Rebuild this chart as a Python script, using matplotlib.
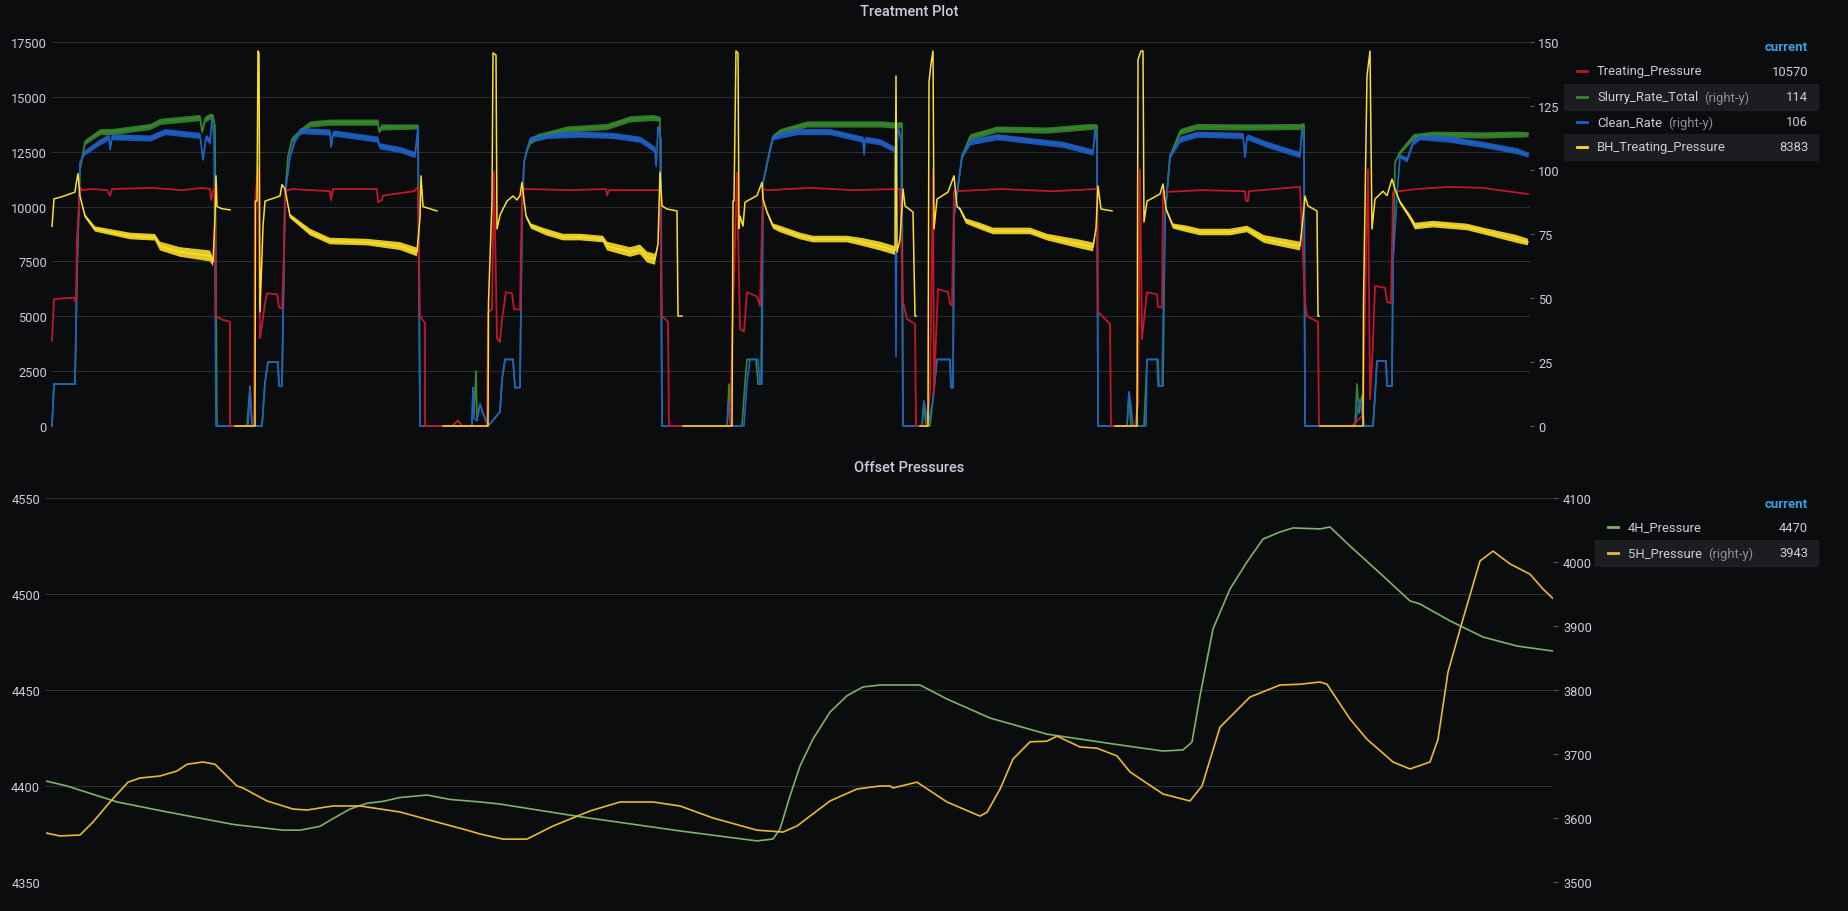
import numpy as np
import matplotlib.pyplot as plt
from matplotlib.patches import Rectangle
from matplotlib.lines import Line2D

plt.rcParams['font.family'] = ['Roboto', 'DejaVu Sans']

W, H = 1848, 912
BG = '#0b0c0e'
TXT = '#ccccdc'
GRID = '#2c2d31'
BAND = '#1c1d21'
nan = np.nan

# ---------------------------------
#  Treatment Plot  (t = minutes from start)
# ---------------------------------

# (t, psi)
treating_pressure = [
    (0, 3900), (2, 5780), (22, 5850), (23, 5700), (24, 5750), (25, 8600), (27, 10000), (28, 10900),
    (30, 10750), (40, 10800), (55, 10750), (58, 10500), (60, 10800), (100, 10850), (130, 10750),
    (150, 10850), (158, 10800), (159, 10300), (161, 10700), (163, 10900), (164, 5000), (170, 4850),
    (178, 4750), (178, 0),
    (202, 0), (203, 10200), (206, 11800), (208, 4000), (209, 4300), (213, 5600), (215, 6050), (225, 6000),
    (227, 5400), (230, 5350), (232, 8000), (233, 10700), (240, 10800), (278, 10700), (279, 10300),
    (281, 10800), (325, 10800), (326, 10200), (330, 10300), (331, 10500), (362, 10700), (366, 10900),
    (368, 5000), (373, 4700), (373, 0),
    (400, 0), (406, 250), (410, 0), (435, 0), (436, 5200), (440, 5300), (442, 11600), (445, 4000),
    (448, 3830), (450, 4880), (454, 6100), (460, 6050), (462, 5330), (468, 5300), (470, 10660),
    (472, 10800), (520, 10750), (554, 10800), (555, 10500), (557, 10750), (608, 10750), (610, 5010),
    (616, 4750), (617, 0),
    (678, 0), (681, 5200), (685, 11570), (688, 4420), (692, 4300), (695, 6100), (705, 5900), (708, 5470),
    (711, 10800), (715, 10750), (760, 10850), (800, 10750), (848, 10800), (851, 5650), (855, 4880),
    (863, 4650), (864, 0),
    (875, 0), (878, 1500), (881, 11700), (882, 1500), (884, 4000), (886, 6240), (896, 6100), (898, 5560),
    (900, 5500), (902, 10700), (950, 10800), (1000, 10700), (1045, 10800), (1046, 5200), (1058, 4650),
    (1059, 0),
    (1083, 0), (1086, 1000), (1088, 11700), (1090, 3965), (1095, 6100), (1105, 6000), (1106, 5420),
    (1110, 5400), (1111, 10660), (1150, 10750), (1193, 10700), (1194, 10250), (1196, 10250),
    (1197, 10700), (1248, 10900), (1253, 5650), (1255, 5010), (1266, 4740), (1267, 0),
    (1300, 0), (1311, 500), (1313, 5650), (1316, 11700), (1318, 1230), (1321, 3830), (1323, 6380),
    (1333, 6300), (1335, 5650), (1339, 5600), (1341, 10660), (1365, 10800), (1398, 10900),
    (1431, 10850), (1476, 10570),
]

# (t, bpm, noise half-spread)
slurry_rate_total = [
    (0, 0, 0), (2, 16.4, 0), (23, 16.4, 0), (25, 60, 0), (28, 100, 0), (33, 111, 1.0), (48, 115, 1.2),
    (60, 115, 1.2), (98, 117, 1.2), (108, 119, 1.2), (148, 120.5, 1.2), (150, 115, 0.8), (153, 120, 1.2),
    (158, 121, 1.2), (161, 121, 1), (163, 117, 0), (165, 0, 0),
    (195, 0, 0), (198, 15.6, 0), (200, 0, 0), (210, 0, 0), (213, 17, 0), (216, 25, 0), (226, 25, 0),
    (227, 15.6, 0), (230, 15.6, 0), (233, 90, 0), (236, 105.5, 0), (240, 112, 1), (248, 115, 1.2),
    (258, 118, 1.2), (278, 118.7, 1.2), (326, 118.7, 1.2), (327, 115, 0.8), (329, 116.8, 1.2),
    (366, 117, 1), (368, 0, 0),
    (420, 0, 0), (421, 15, 0), (422, 5, 0), (424, 21.5, 0), (425, 3, 0), (428, 8.6, 0), (431, 5, 0),
    (436, 0, 0), (448, 5.5, 0), (450, 18, 0), (453, 26, 0), (461, 26, 0), (463, 15, 0), (468, 15, 0),
    (470, 82, 0), (472, 103, 0), (475, 108, 0.8), (478, 111, 1), (485, 113, 1.2), (515, 116, 1.2),
    (555, 117, 1.2), (578, 120, 1.2), (601, 120.5, 1.2), (608, 120, 1), (610, 0, 0),
    (675, 0, 0), (677, 16.4, 0), (679, 0, 0), (690, 0, 0), (693, 17, 0), (695, 26, 0), (704, 26, 0),
    (706, 16.4, 0), (709, 16.4, 0), (711, 95, 0), (718, 108, 0.8), (721, 113, 1), (728, 115, 1.2),
    (755, 118, 1.2), (828, 118, 1.2), (845, 117.5, 1.2), (850, 118, 1), (851, 0, 0),
    (870, 0, 0), (872, 9.7, 0), (874, 0, 0), (878, 0, 0), (881, 10.5, 0), (885, 26, 0), (898, 26, 0),
    (899, 15, 0), (901, 15, 0), (902, 82, 0), (910, 105.5, 0.8), (918, 113, 1.2), (945, 116, 1.2),
    (995, 115.6, 1.2), (1038, 117, 1.2), (1045, 117, 1), (1046, 0, 0),
    (1075, 0, 0), (1077, 13.3, 0), (1079, 0, 0), (1092, 0, 0), (1095, 26, 0), (1106, 26, 0),
    (1107, 15.6, 0), (1111, 15.6, 0), (1113, 82, 0), (1118, 105.5, 0.8), (1128, 115, 1.2),
    (1145, 117, 1.2), (1195, 116.8, 1.2), (1248, 117, 1.2), (1252, 117.6, 1), (1253, 0, 0),
    (1303, 0, 0), (1305, 16.4, 0), (1307, 5, 0), (1310, 12, 0), (1312, 0, 0), (1321, 0, 0),
    (1323, 11.7, 0), (1325, 25.4, 0), (1334, 25.4, 0), (1335, 15.6, 0), (1340, 15.6, 0), (1341, 64, 0),
    (1343, 103, 0), (1348, 107, 0.8), (1361, 113, 1.2), (1381, 114, 1.2), (1431, 113.7, 1.2),
    (1465, 114, 1.2), (1476, 114, 1),
]

# (t, bpm, noise half-spread)
clean_rate = [
    (0, 0, 0), (2, 16.4, 0), (23, 16.4, 0), (25, 60, 0), (28, 103, 0), (33, 107, 1), (48, 111, 1.2),
    (57, 113, 1.2), (58, 108, 0.5), (60, 113, 1.2), (98, 112.5, 1.2), (113, 115, 1.2), (148, 113.5, 1.2),
    (151, 104, 0.5), (154, 113, 1.2), (158, 111, 1.2), (160, 120, 0.5), (162, 113, 0.5), (164, 0, 0),
    (178, 0, 0),
    (196, 0, 0), (198, 14.5, 0), (200, 0, 0), (210, 0, 0), (213, 17, 0), (216, 25, 0), (226, 25, 0),
    (227, 15.6, 0), (230, 15.6, 0), (233, 90, 0), (238, 105.5, 0.8), (243, 112, 1.2), (248, 115.4, 1.2),
    (278, 114.8, 1.2), (279, 109, 0.5), (281, 114.5, 1.2), (326, 112, 1.2), (327, 109.5, 1.2),
    (348, 108, 1.2), (363, 106, 1.2), (366, 117, 0.5), (368, 0, 0), (385, 0, 0),
    (420, 0, 0), (421, 15, 0), (422, 3, 0), (425, 2, 0), (428, 8.6, 0), (431, 5, 0), (436, 0, 0),
    (448, 5.5, 0), (450, 18, 0), (453, 26, 0), (461, 26, 0), (463, 15, 0), (468, 15, 0), (470, 82, 0),
    (472, 103, 0), (475, 108, 0.8), (478, 112, 1.2), (495, 113.5, 1.2), (528, 114, 1.2),
    (561, 113.5, 1.2), (588, 112, 1.2), (603, 108, 1.2), (604, 101.5, 0.5), (605, 108, 0.5),
    (606, 117, 0.5), (609, 112, 0.5), (610, 0, 0), (631, 0, 0),
    (675, 0, 0), (677, 9.4, 0), (679, 0, 0), (692, 0, 0), (695, 17, 0), (698, 26, 0), (706, 26, 0),
    (708, 16.4, 0), (710, 16.4, 0), (711, 95, 0), (718, 108, 0.8), (721, 113, 1.2), (745, 115, 1.2),
    (778, 115, 1.2), (811, 112, 1.2), (812, 106, 0.5), (813, 112, 1.2), (828, 111, 1.2),
    (843, 108, 1.2), (844, 27, 0), (845, 108, 0.5), (846, 117, 0.5), (849, 112, 0.5), (851, 0, 0),
    (865, 0, 0),
    (870, 0, 0), (872, 9.7, 0), (874, 5, 0), (876, 0, 0), (881, 10.5, 0), (885, 26, 0), (898, 26, 0),
    (899, 15, 0), (901, 15, 0), (902, 82, 0), (910, 105.5, 0.8), (918, 111, 1.2), (945, 113, 1.2),
    (978, 111.5, 1.2), (1011, 110, 1.2), (1041, 107, 1.2), (1043, 116, 0.5), (1045, 110, 0.5),
    (1046, 0, 0), (1060, 0, 0),
    (1075, 0, 0), (1077, 13.3, 0), (1079, 8, 0), (1081, 0, 0), (1094, 0, 0), (1095, 26, 0),
    (1105, 26, 0), (1106, 15.6, 0), (1110, 15.6, 0), (1113, 82, 0), (1118, 105.5, 0.8),
    (1128, 112, 1.2), (1145, 114, 1.2), (1191, 113.5, 1.2), (1193, 105, 0.5), (1195, 113, 1.2),
    (1215, 110, 1.2), (1248, 106, 1.2), (1250, 116, 0.5), (1252, 111, 0.5), (1253, 0, 0), (1266, 0, 0),
    (1303, 0, 0), (1305, 5, 0), (1308, 10.5, 0), (1310, 5, 0), (1312, 0, 0), (1321, 0, 0),
    (1323, 11.7, 0), (1325, 25.4, 0), (1334, 25.4, 0), (1335, 15.6, 0), (1340, 15.6, 0), (1341, 64, 0),
    (1345, 90, 0), (1348, 105.5, 0.8), (1355, 104, 1), (1361, 111, 1.2), (1368, 113, 1.2),
    (1398, 112, 1.2), (1431, 110, 1.2), (1465, 107.5, 1.2), (1476, 106, 1),
]

# (t, psi, noise half-spread); nan = no data
bh_treating_pressure = [
    (0, 9100, 0), (2, 10350, 0), (10, 10450, 0), (23, 10660, 0), (24, 11000, 0), (26, 11500, 0),
    (28, 10480, 0), (33, 9570, 80), (43, 8980, 120), (78, 8660, 150), (103, 8600, 150), (108, 8200, 200),
    (128, 7930, 220), (158, 7750, 250), (161, 7470, 200), (163, 9500, 0), (164, 11400, 0),
    (165, 10000, 0), (170, 9900, 0), (178, 9850, 0), (178, nan, 0),
    (183, 0, 0), (203, 0, 0), (203.5, 10250, 0), (205, 10250, 0), (206, 17090, 0), (207, 17000, 0),
    (208, 5200, 0), (211, 9100, 0), (213, 10250, 0), (228, 10480, 0), (230, 11000, 0), (233, 10800, 0),
    (238, 9570, 100), (258, 8840, 150), (278, 8430, 150), (315, 8380, 150), (348, 8200, 180),
    (365, 7930, 200), (368, 9500, 0), (369, 11400, 0), (371, 10000, 0), (385, 9800, 0), (385, nan, 0),
    (391, 0, 0), (436, 0, 0), (436.5, 5650, 0), (440, 10250, 0), (441, 17000, 0), (444, 16900, 0),
    (445, 8980, 0), (448, 9600, 0), (451, 9890, 0), (455, 10250, 0), (461, 10480, 0), (465, 10300, 0),
    (468, 10500, 0), (470, 11100, 0), (472, 10340, 0), (474, 9570, 80), (479, 9110, 120),
    (494, 8840, 150), (511, 8610, 150), (528, 8610, 150), (551, 8520, 150), (555, 8200, 200),
    (578, 7930, 220), (588, 8050, 220), (595, 7700, 250), (603, 7600, 250), (606, 8300, 0),
    (608, 11570, 0), (610, 10030, 0), (615, 9890, 0), (625, 9800, 0), (626, 5010, 0), (630, 5010, 0),
    (630, nan, 0),
    (631, 0, 0), (680, 0, 0), (681, 10250, 0), (682, 10250, 0), (684, 17090, 0), (686, 17000, 0),
    (687, 9000, 0), (688, 9570, 0), (691, 9110, 0), (693, 10200, 0), (705, 10500, 0), (710, 11100, 0),
    (711, 10340, 0), (715, 9750, 80), (721, 9110, 120), (728, 8980, 150), (748, 8660, 150),
    (761, 8520, 150), (795, 8520, 150), (811, 8380, 180), (828, 8200, 200), (843, 8000, 200),
    (844, 15950, 0), (845, 7930, 0), (848, 8500, 0), (851, 10800, 0), (853, 10030, 0), (861, 9750, 0),
    (863, 5010, 0), (864, 5010, 0), (864, nan, 0),
    (868, 0, 0), (876, 0, 0), (877, 15680, 0), (879, 16500, 0), (881, 17090, 0), (882, 8980, 0),
    (885, 10340, 0), (896, 10660, 0), (902, 11400, 0), (905, 10000, 0), (908, 9890, 80),
    (914, 9340, 120), (928, 9110, 150), (941, 8890, 150), (978, 8890, 150), (995, 8610, 150),
    (1028, 8290, 200), (1041, 8160, 200), (1044, 9000, 0), (1046, 10940, 0), (1049, 9890, 0),
    (1060, 9800, 0), (1060, nan, 0),
    (1063, 0, 0), (1085, 0, 0), (1086, 16700, 0), (1089, 17090, 0), (1091, 17090, 0), (1092, 9300, 0),
    (1095, 10250, 0), (1108, 10570, 0), (1111, 11030, 0), (1114, 9890, 80), (1121, 9110, 120),
    (1135, 8980, 150), (1148, 8840, 150), (1178, 8840, 150), (1195, 8980, 150), (1212, 8520, 180),
    (1248, 8200, 200), (1251, 9500, 0), (1253, 10480, 0), (1256, 10030, 0), (1265, 9800, 0),
    (1266, 5010, 0), (1267, 5010, 0), (1267, nan, 0),
    (1268, 0, 0), (1311, 0, 0), (1311.5, 5650, 0), (1315, 15950, 0), (1318, 17090, 0), (1320, 8980, 0),
    (1323, 10340, 0), (1331, 10700, 0), (1335, 10500, 0), (1340, 11250, 0), (1343, 10800, 0),
    (1348, 10200, 80), (1358, 9520, 120), (1363, 9110, 150), (1381, 9200, 150), (1415, 9070, 150),
    (1431, 8890, 150), (1465, 8520, 180), (1476, 8383, 150),
]

# ---------------------------------
#  Offset Pressures
# ---------------------------------

pressure_4h = [
    (0, 4402.6), (21, 4400), (71, 4391.7), (121, 4386.5), (187, 4380), (237, 4377), (254, 4377),
    (274, 4379), (287, 4383), (304, 4388), (321, 4391), (337, 4392), (354, 4394), (381, 4395.3),
    (404, 4393), (434, 4391.7), (454, 4390.6), (534, 4384), (634, 4376.6), (711, 4371.4),
    (727, 4372.4), (734, 4377.6), (744, 4394.8), (754, 4410.4), (767, 4424.5), (784, 4438.5),
    (801, 4447), (817, 4451.6), (834, 4452.6), (874, 4452.6), (901, 4445.3), (944, 4435.4),
    (1001, 4427), (1067, 4421.9), (1117, 4418.2), (1137, 4418.8), (1146, 4422.9), (1154, 4446.9),
    (1167, 4481.8), (1184, 4502.6), (1201, 4516.7), (1217, 4528.6), (1234, 4532.3), (1247, 4534.4),
    (1274, 4533.9), (1284, 4534.9), (1304, 4525), (1337, 4509.4), (1364, 4496.4), (1374, 4494.8),
    (1404, 4486), (1437, 4477.6), (1471, 4472.9), (1507, 4470.3),
]

pressure_5h = [
    (0, 3576.6), (14, 3572), (34, 3573.4), (47, 3593.7), (64, 3625), (82, 3656), (94, 3662.5),
    (114, 3665.6), (131, 3673.4), (141, 3684), (157, 3687.5), (169, 3684), (191, 3650), (197, 3646.9),
    (221, 3626.6), (247, 3614), (261, 3612.5), (287, 3618.8), (314, 3618.8), (354, 3609.4),
    (387, 3595.3), (421, 3581), (434, 3575), (457, 3567), (481, 3567), (507, 3587.5), (544, 3611),
    (574, 3625), (607, 3625), (634, 3618.8), (667, 3600), (711, 3581), (737, 3578), (751, 3587.5),
    (784, 3626.6), (811, 3645.3), (834, 3650), (844, 3650), (847, 3647), (871, 3656), (901, 3625),
    (934, 3603), (941, 3609), (954, 3645), (967, 3692), (984, 3719), (1001, 3720), (1011, 3728),
    (1034, 3711), (1051, 3709), (1071, 3697), (1084, 3672), (1117, 3637.5), (1144, 3626.6),
    (1156, 3650), (1174, 3742), (1204, 3789), (1234, 3807.8), (1254, 3809), (1274, 3812.5),
    (1281, 3809), (1304, 3754.7), (1321, 3723), (1347, 3687.5), (1364, 3676.6), (1384, 3687.5),
    (1392, 3723), (1402, 3828), (1417, 3911), (1434, 4001.6), (1447, 4017), (1464, 3997),
    (1484, 3981), (1497, 3957.8), (1507, 3943),
]

top_names = ["Treating_Pressure", "Slurry_Rate_Total", "Clean_Rate", "BH_Treating_Pressure"]
top_right_y = [False, True, True, False]
top_colors = ['#c4162a', '#37872d', '#1f60c4', '#fade2a']
bot_names = ["4H_Pressure", "5H_Pressure"]
bot_right_y = [False, True]
bot_colors = ['#7eb26d', '#eab839']


def arr(points):
    return np.array(points, dtype=float).T


def fpx(x, y):
    return x / W, 1 - y / H


fig = plt.figure(figsize=(W / 100, H / 100), dpi=100, facecolor=BG)

# ---------- top panel ----------
ax_r = fig.add_axes([52 / W, 1 - 427 / H, 1478 / W, 384 / H])
ax_l = ax_r.twinx()
ax_l.yaxis.set_label_position('left')
ax_l.yaxis.tick_left()
ax_r.yaxis.tick_right()
ax_l.set_zorder(ax_r.get_zorder() + 1)
for a in (ax_l, ax_r):
    a.patch.set_visible(False)
    for s in a.spines.values():
        s.set_visible(False)
    a.set_xticks([])
    a.set_xlim(0, 1478)

ax_l.set_ylim(0, 17500)
ax_r.set_ylim(0, 150)
left_ticks = np.arange(0, 17501, 2500)
ax_l.set_yticks(left_ticks)
ax_r.set_yticks(np.arange(0, 151, 25))
ax_l.tick_params(axis='y', length=0, pad=3.6, labelsize=9.2, labelcolor=TXT)
ax_r.tick_params(axis='y', length=3, width=0.8, color='#55565c', pad=3, labelsize=9.2, labelcolor=TXT)
for v in left_ticks:
    ax_r.axhline(v * 150 / 17500, color=GRID, lw=0.8, zorder=0)

t, v = arr(treating_pressure)
ax_l.plot(t, v, color=top_colors[0], lw=1.3, clip_on=False, zorder=2)

for a_data, col in ((slurry_rate_total, top_colors[1]), (clean_rate, top_colors[2])):
    t, v, s = arr(a_data)
    ax_r.fill_between(t, v - s, v + s, color=col, lw=0, alpha=0.9)
    ax_r.plot(t, v, color=col, lw=1.2, clip_on=False)

t, v, s = arr(bh_treating_pressure)
ax_l.fill_between(t, v - s, v + s, color=top_colors[3], lw=0, alpha=0.9, zorder=3)
ax_l.plot(t, v, color=top_colors[3], lw=1.1, clip_on=False, zorder=3)

# ---------- bottom panel ----------
ax_b = fig.add_axes([46 / W, 1 - 883 / H, 1507 / W, 384 / H])
ax_b2 = ax_b.twinx()
for a in (ax_b, ax_b2):
    a.patch.set_visible(False)
    for s in a.spines.values():
        s.set_visible(False)
    a.set_xticks([])
    a.set_xlim(0, 1507)
ax_b.set_ylim(4350, 4550)
ax_b2.set_ylim(3500, 4100)
ax_b.set_yticks(np.arange(4350, 4551, 50))
ax_b2.set_yticks(np.arange(3500, 4101, 100))
ax_b.tick_params(axis='y', length=0, pad=4.3, labelsize=9.2, labelcolor=TXT)
ax_b2.tick_params(axis='y', length=3.6, width=0.8, color='#55565c', pad=3.6, labelsize=9.2, labelcolor=TXT)
ax_b.grid(axis='y', color=GRID, lw=0.8)

t, v = arr(pressure_4h)
ax_b.plot(t, v, color=bot_colors[0], lw=1.2)
t, v = arr(pressure_5h)
ax_b2.plot(t, v, color=bot_colors[1], lw=1.2)

# ---------- titles ----------
fig.text(*fpx(909, 12), "Treatment Plot", ha='center', va='center', color=TXT,
         fontsize=10.5, fontweight='medium')
fig.text(*fpx(909, 468), "Offset Pressures", ha='center', va='center', color=TXT,
         fontsize=10.5, fontweight='medium')

# ---------- legends ----------
renderer = fig.canvas.get_renderer()


def legend(head_y, rows_y, names, right_y, colors, values, sw_x, band_x, banded):
    fig.text(*fpx(1808, head_y), "current", ha='right', va='center', color='#33a2e5',
             fontsize=9.5, fontweight='bold')
    for i, (y, name, ry, col, val) in enumerate(zip(rows_y, names, right_y, colors, values)):
        if i in banded:
            fig.add_artist(Rectangle(fpx(band_x, y + 13), (1818 - band_x) / W, 26 / H,
                                     transform=fig.transFigure, color=BAND, zorder=0))
        fy = 1 - y / H
        fig.add_artist(Line2D([sw_x / W, (sw_x + 10) / W], [fy, fy], transform=fig.transFigure,
                              color=col, lw=2))
        tx = fig.text((sw_x + 20) / W, fy, name, ha='left', va='center', color=TXT, fontsize=9.4)
        if ry:
            bb = tx.get_window_extent(renderer)
            fig.text((bb.x1 + 6) / W, fy, "(right-y)", ha='left', va='center', color='#8e8e96',
                     fontsize=9.4)
        fig.text(1808 / W, fy, f"{val:.0f}", ha='right', va='center', color=TXT, fontsize=9.4)


top_current = [treating_pressure[-1][1], slurry_rate_total[-1][1], clean_rate[-1][1],
               bh_treating_pressure[-1][1]]
legend(48, [72, 98, 123, 148], top_names, top_right_y, top_colors, top_current, 1577, 1564, [1, 3])

bot_current = [pressure_4h[-1][1], pressure_5h[-1][1]]
legend(505, [528, 554], bot_names, bot_right_y, bot_colors, bot_current, 1608, 1595, [1])

fig.savefig("out.png", dpi=100, facecolor=BG)
